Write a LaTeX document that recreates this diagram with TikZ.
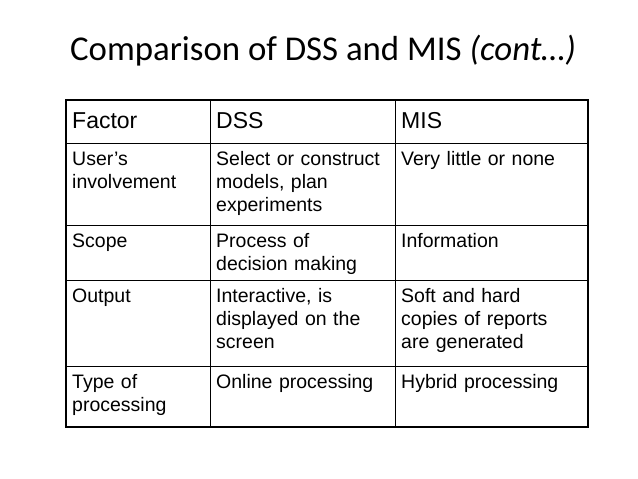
\documentclass[tikz,border=0pt]{standalone}
\usepackage{fontspec}
\setmainfont{Liberation Sans}
\newfontfamily\titlefont{Carlito}
\begin{document}
\begin{tikzpicture}[x=1pt,y=-1pt,
  cell/.style={anchor=north west,align=left,inner sep=0pt,text width=185pt,font=\fontsize{19.5}{23}\selectfont},
  head/.style={anchor=west,inner sep=0pt,font=\fontsize{23}{26}\selectfont}]
\useasboundingbox (0,0) rectangle (638,479);
\node[anchor=base west,inner sep=0pt,font=\titlefont\fontsize{34.8}{38}\selectfont] (title) at (70,60) {Comparison of DSS and MIS \textit{(cont…)}};
% grid
\foreach \y in {143,225,280,366} \draw[line width=0.8pt] (66,\y) -- (588,\y);
\foreach \x in {210,395} \draw[line width=0.8pt] (\x,100) -- (\x,427);
\draw[line width=1.6pt] (66,100) rectangle (588,427);
% header
\node[head] (h1) at (72,121) {Factor};
\node[head] (h2) at (216,121) {DSS};
\node[head] (h3) at (401,121) {MIS};
% rows
\node[cell] (a1) at (72,149) {\strut User’s\\involvement};
\node[cell] (b1) at (216,149) {\strut Select or construct\\models, plan\\experiments};
\node[cell] (c1) at (401,149) {\strut Very little or none};
\node[cell] (a2) at (72,231) {\strut Scope};
\node[cell] (b2) at (216,231) {\strut Process of\\decision making};
\node[cell] (c2) at (401,231) {\strut Information};
\node[cell] (a3) at (72,286) {\strut Output};
\node[cell] (b3) at (216,286) {\strut Interactive, is\\displayed on the\\screen};
\node[cell] (c3) at (401,286) {\strut Soft and hard\\copies of reports\\are generated};
\node[cell] (a4) at (72,372) {\strut Type of\\processing};
\node[cell] (b4) at (216,372) {\strut Online processing};
\node[cell] (c4) at (401,372) {\strut Hybrid processing};
\end{tikzpicture}
\end{document}
